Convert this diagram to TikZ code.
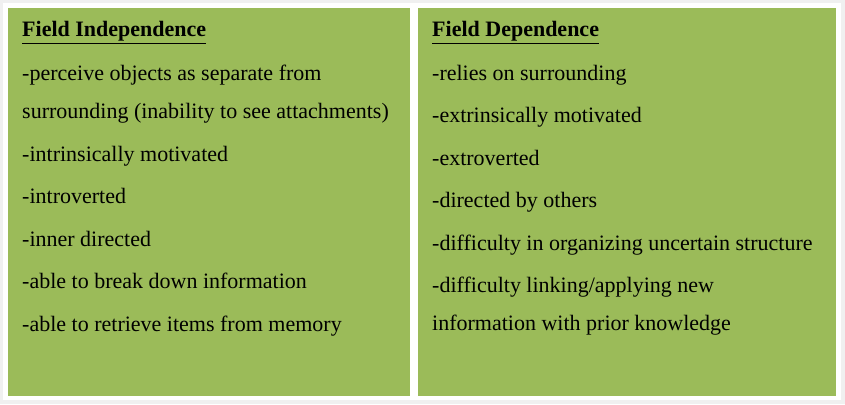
\documentclass[tikz,border=0pt]{standalone}
\usepackage{fontspec}
\setmainfont{Liberation Serif}
\definecolor{grn}{HTML}{9BBB59}
\begin{document}
\begin{tikzpicture}[x=1pt,y=-1pt,
 box/.style={fill=grn,draw=none},
 txt/.style={anchor=base west,inner sep=0pt,font=\fontsize{22}{26}\selectfont}]
\useasboundingbox (0,0) rectangle (845,404);
\fill[gray!12] (0,0) rectangle (845,404);
\fill[white] (3,3) rectangle (841,400);
\fill[box] (8,8) rectangle (410,396);
\fill[box] (418,8) rectangle (836,396);
\node[txt] (t1) at (22,37) {\textbf{\underline{Field Independence}}};
\node[txt] (a1) at (22,80) {-perceive objects as separate from};
\node[txt] (a2) at (22,118) {surrounding (inability to see attachments)};
\node[txt] (a3) at (22,161) {-intrinsically motivated};
\node[txt] (a4) at (22,203) {-introverted};
\node[txt] (a5) at (22,246) {-inner directed};
\node[txt] (a6) at (22,288) {-able to break down information};
\node[txt] (a7) at (22,331) {-able to retrieve items from memory};
\node[txt] (t2) at (432,37) {\textbf{\underline{Field Dependence}}};
\node[txt] (b1) at (432,80) {-relies on surrounding};
\node[txt] (b2) at (432,122) {-extrinsically motivated};
\node[txt] (b3) at (432,165) {-extroverted};
\node[txt] (b4) at (432,207) {-directed by others};
\node[txt] (b5) at (432,250) {-difficulty in organizing uncertain structure};
\node[txt] (b6) at (432,292) {-difficulty linking/applying new};
\node[txt] (b7) at (432,330) {information with prior knowledge};
\end{tikzpicture}
\end{document}
